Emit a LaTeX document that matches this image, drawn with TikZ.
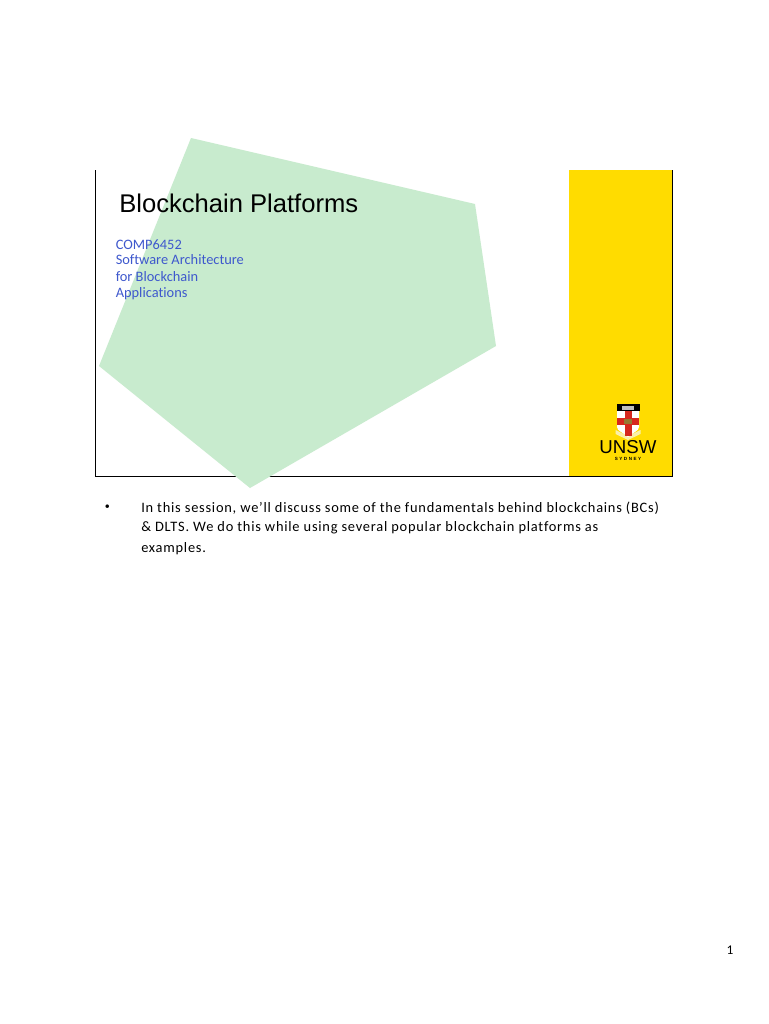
\documentclass[tikz,border=0pt]{standalone}
\usepackage{fontspec}
\setmainfont[Ligatures=NoCommon]{Carlito}
\newfontfamily\headfont{Liberation Sans}
\newfontfamily\bodyfont[LetterSpace=5.3,Ligatures=NoCommon]{Carlito}
\definecolor{unswyellow}{RGB}{255,220,0}
\definecolor{palegreen}{RGB}{200,235,206}
\definecolor{subblue}{RGB}{62,88,205}
\definecolor{shieldred}{RGB}{214,40,30}
\definecolor{lionbrown}{RGB}{150,120,50}
\definecolor{ribbonpale}{RGB}{250,240,170}
\tikzset{
	subline/.style={anchor=west,inner sep=0pt,text=subblue,font=\fontsize{10.8}{12}\selectfont},
	bodyline/.style={anchor=west,inner sep=0pt,font=\bodyfont\fontsize{10.8}{12}\selectfont},
}
\begin{document}
\begin{tikzpicture}[x=0.75pt,y=-0.75pt]
	\useasboundingbox (0,0) rectangle (768,1024);
	\fill [white] (0,0) rectangle (768,1024);
	\fill [unswyellow] (569,170) rectangle (672.5,476);
	\draw [line width=0.75pt] (95.5,170) -- (95.5,476) -- (672.5,476) -- (672.5,170);
	\fill [palegreen] (191,138) -- (475,204) -- (496,346) -- (250,488) -- (99,366) -- cycle;
	% crest
	\fill [black] (616.5,404) rectangle (639.5,411);
	\fill [black!25] (622,405.5) rectangle (634,410);
	\fill [ribbonpale] (615.5,430) -- (628,436) -- (640.5,430) -- (640.5,434) -- (628,440) -- (615.5,434) -- cycle;
	\fill [white] (617,411) -- (639,411) -- (639,427) .. controls (639,431) and (632,433) .. (628,437) .. controls (624,433) and (617,431) .. (617,427) -- cycle;
	\fill [shieldred] (624.5,411) rectangle (631.5,436);
	\fill [shieldred] (617,417.5) rectangle (639,425);
	\fill [lionbrown] (624,419) rectangle (632,424);
	\node [inner sep=0pt,font=\headfont\fontsize{14}{16}\selectfont] (logotext) at (628,447.5) {UNSW};
	\node [inner sep=0pt,font=\headfont\bfseries\fontsize{3.4}{4}\selectfont] (logosub) at (628,459) {S\,\,Y\,\,D\,\,N\,\,E\,\,Y};
	% title block
	\node [anchor=west,inner sep=0pt,font=\headfont\fontsize{19.2}{22}\selectfont] (title) at (119,203) {Blockchain Platforms};
	\node [subline] (sub1) at (115.5,244.5) {COMP6452};
	\node [subline] (sub2) at (115.5,260) {Software Architecture};
	\node [subline] (sub3) at (115.5,276.5) {for Blockchain};
	\node [subline] (sub4) at (115.5,294) {Applications};
	% notes
	\node [anchor=west,inner sep=0pt,font=\fontsize{7.5}{9}\selectfont] (bullet) at (104.5,507) {•};
	\node [bodyline] (line1) at (141,508) {In this session, we’ll discuss some of the fundamentals behind blockchains (BCs)};
	\node [bodyline] (line2) at (141,528) {\& DLTS. We do this while using several popular blockchain platforms as};
	\node [bodyline] (line3) at (141,548.5) {examples.};
	\node [inner sep=0pt,font=\fontsize{10}{12}\selectfont] (pagenum) at (730,950) {1};
\end{tikzpicture}
\end{document}
